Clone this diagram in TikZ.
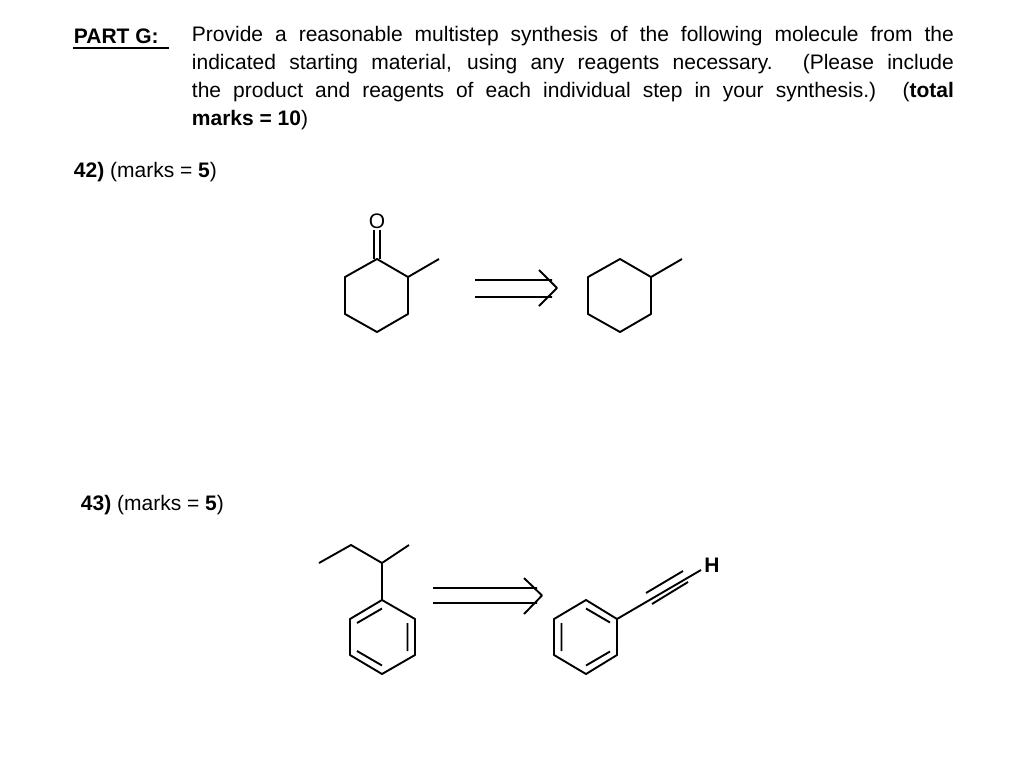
\documentclass[tikz,border=0pt]{standalone}
\usepackage{fontspec}
\setmainfont{Liberation Sans}
\begin{document}
\begin{tikzpicture}[x=1pt,y=-1pt,line width=1.9pt,line join=round,
  txt/.style={anchor=base west,inner sep=0pt,font=\fontsize{21}{28}\selectfont}]
\useasboundingbox (0,0) rectangle (1024,780);
\node[txt] (pg) at (73,43) {\textbf{PART G:}};
\draw[line width=1.4pt] (73,48) -- (169,48);
\node[txt,anchor=north west] (intro) at (191,25) {\parbox[t]{762pt}{\fontsize{21}{28}\selectfont\hyphenpenalty=10000 Provide a reasonable multistep synthesis of the following molecule from the\linebreak indicated starting material, using any reagents necessary. (Please include\linebreak the product and reagents of each individual step in your synthesis.) (\textbf{total}\linebreak \textbf{marks = 10})}};
\node[txt] (q42) at (73,177) {\textbf{42)} (marks = \textbf{5})};
\node[txt] (q43) at (80,510) {\textbf{43)} (marks = \textbf{5})};
% ketone
\coordinate (a1) at (377,259); \coordinate (a2) at (408,277); \coordinate (a3) at (408,314);
\coordinate (a4) at (377,332); \coordinate (a5) at (345,314); \coordinate (a6) at (345,277);
\coordinate (am) at (439,259);
\node[font=\fontsize{21}{22}\selectfont,inner sep=1pt] (O) at (377,221) {O};
\draw (a1)--(a2)--(a3)--(a4)--(a5)--(a6)--cycle (a2)--(am);
\draw ([xshift=-3pt]a1) -- ([xshift=-3pt]O.south) ([xshift=3pt]a1) -- ([xshift=3pt]O.south);
% arrow 1
\coordinate (t1) at (557,288);
\draw (475,280)--(552,280) (475,297)--(552,297) (539,270)--(t1)--(539,306);
% methylcyclohexane
\coordinate (b1) at (620,259); \coordinate (b2) at (651,277); \coordinate (b3) at (651,314);
\coordinate (b4) at (620,332); \coordinate (b5) at (588,314); \coordinate (b6) at (588,277);
\draw (b1)--(b2)--(b3)--(b4)--(b5)--(b6)--cycle (b2)--(682,259);
% sec-butylbenzene
\coordinate (c1) at (382,600); \coordinate (c2) at (415,619); \coordinate (c3) at (415,655);
\coordinate (c4) at (382,674); \coordinate (c5) at (350,655); \coordinate (c6) at (350,619);
\draw (c1)--(c2)--(c3)--(c4)--(c5)--(c6)--cycle;
\draw (c1)--(382,563)--(409,545) (382,563)--(351,545)--(319,563);
\draw (357,623)--(382,608.5) (407.5,623)--(407.5,651) (357,651)--(382,665.5);
% arrow 2
\draw (433,588)--(537,588) (433,603)--(537,603) (524,578)--(542,595.5)--(524,614);
% phenylacetylene
\coordinate (d1) at (586,600); \coordinate (d2) at (617,619); \coordinate (d3) at (617,655);
\coordinate (d4) at (586,674); \coordinate (d5) at (554,655); \coordinate (d6) at (554,619);
\draw (d1)--(d2)--(d3)--(d4)--(d5)--(d6)--cycle;
\draw (561.5,623)--(561.5,651) (586,608.5)--(610,622.5) (586,665.5)--(610,651.5);
\node[font=\fontsize{21}{22}\selectfont,inner sep=1pt] (H) at (712,565) {\textbf{H}};
\draw (d2)--(701,570);
\draw (646,593)--(683,571) (652,604)--(688,582);
\end{tikzpicture}
\end{document}
